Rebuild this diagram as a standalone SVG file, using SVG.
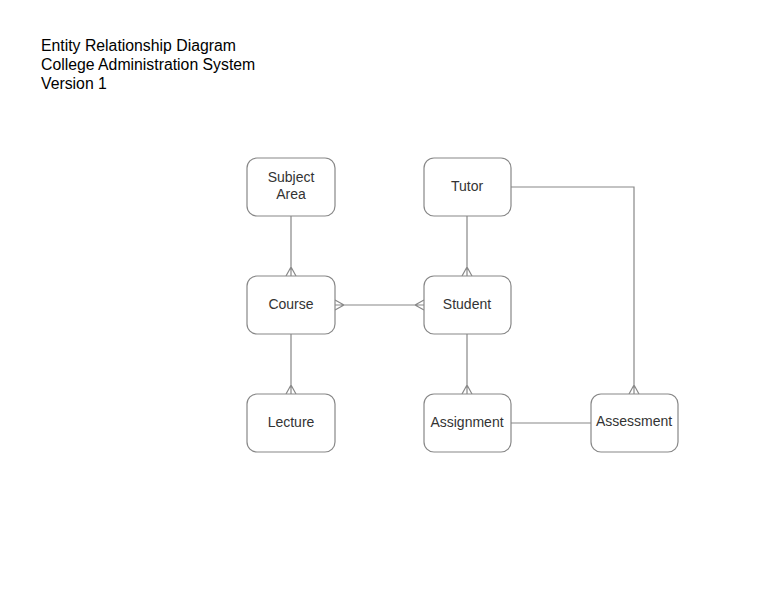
<svg xmlns="http://www.w3.org/2000/svg" width="768" height="614" viewBox="0 0 768 614">
<style>
.n{fill:#fff;stroke:#888;stroke-width:1.2}
.t{font-family:"Liberation Sans",Arial,sans-serif;font-size:14px;fill:#333;text-anchor:middle}
.h{font-family:"Liberation Sans",Arial,sans-serif;font-size:15.8px;fill:#000}
.c{fill:none;stroke:#888;stroke-width:1.2}
</style>
<rect width="768" height="614" fill="#fff"/>
<text class="h" x="41" y="51">Entity Relationship Diagram</text>
<text class="h" x="41" y="70">College Administration System</text>
<text class="h" x="41" y="89">Version 1</text>
<g id="connectors">
<path class="c" d="M291 216V276M286 276L291 267L296 276"/>
<path class="c" d="M467 216V276M462 276L467 267L472 276"/>
<path class="c" d="M291 334V394M286 394L291 385L296 394"/>
<path class="c" d="M467 334V394M462 394L467 385L472 394"/>
<path class="c" d="M335 305H424M335 300L344 305L335 310M424 300L415 305L424 310"/>
<path class="c" d="M511 187H634V394M629 394L634 385L639 394"/>
<path class="c" d="M511 423H591"/>
</g>
<g id="subject"><rect class="n" x="247" y="158" width="88" height="58" rx="10"/><text class="t" x="291" y="182">Subject</text><text class="t" x="291" y="199">Area</text></g>
<g id="tutor"><rect class="n" x="424" y="158" width="87" height="58" rx="10"/><text class="t" x="467" y="191">Tutor</text></g>
<g id="course"><rect class="n" x="247" y="276" width="88" height="58" rx="10"/><text class="t" x="291" y="309">Course</text></g>
<g id="student"><rect class="n" x="424" y="276" width="87" height="58" rx="10"/><text class="t" x="467" y="309">Student</text></g>
<g id="lecture"><rect class="n" x="247" y="394" width="88" height="58" rx="10"/><text class="t" x="291" y="427">Lecture</text></g>
<g id="assignment"><rect class="n" x="424" y="394" width="87" height="58" rx="10"/><text class="t" x="467" y="427">Assignment</text></g>
<g id="assessment"><rect class="n" x="591" y="394" width="87" height="58" rx="10"/><text class="t" x="634" y="426">Assessment</text></g>
</svg>
